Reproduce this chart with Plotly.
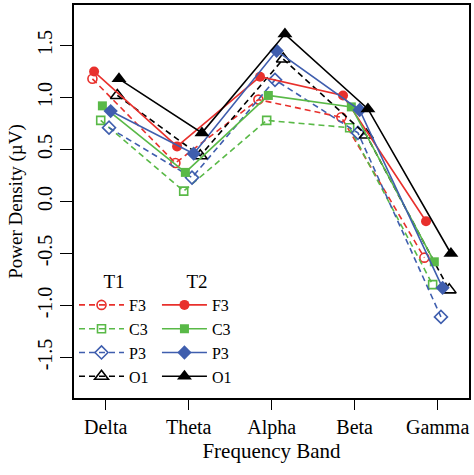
import plotly.graph_objects as go

# Frequency bands on the x axis
bands = ["Delta", "Theta", "Alpha", "Beta", "Gamma"]
band_pos = [1, 2, 3, 4, 5]
electrodes = ["F3", "C3", "P3", "O1"]

# Power density (uV)
t1_f3 = [1.18, 0.37, 0.98, 0.81, -0.54]
t1_c3 = [0.78, 0.10, 0.78, 0.71, -0.80]
t1_p3 = [0.71, 0.23, 1.17, 0.66, -1.11]
t1_o1 = [1.02, 0.44, 1.37, 0.64, -0.85]

t2_f3 = [1.25, 0.53, 1.20, 1.02, -0.19]
t2_c3 = [0.92, 0.28, 1.02, 0.91, -0.58]
t2_p3 = [0.87, 0.46, 1.45, 0.88, -0.83]
t2_o1 = [1.18, 0.66, 1.61, 0.89, -0.50]

# horizontal dodge per electrode / session
t1_offsets = [-0.16, -0.06, 0.04, 0.14]
t2_offsets = [-0.14, -0.04, 0.06, 0.16]

y_ticks = [-1.5, -1.0, -0.5, 0.0, 0.5, 1.0, 1.5]
y_ticktext = ["-1.5", "-1.0", "-0.5", "0.0", "0.5", "1.0", "1.5"]

colors = ["#E8302C", "#59B947", "#3F5EAE", "#000000"]
symbols = ["circle", "square", "diamond", "triangle-up"]
sizes = [10, 9, 11, 13]

FONT = "Liberation Serif"

fig = go.Figure()

t1 = [t1_f3, t1_c3, t1_p3, t1_o1]
t2 = [t2_f3, t2_c3, t2_p3, t2_o1]

for i, name in enumerate(electrodes):
    fig.add_trace(go.Scatter(
        x=[p + t1_offsets[i] for p in band_pos], y=t1[i], name=name,
        mode="lines+markers", legend="legend",
        line=dict(color=colors[i], width=1.6, dash="6px,4px"),
        marker=dict(symbol=symbols[i] + "-open", size=sizes[i] - 1,
                    color=colors[i], line=dict(width=1.6, color=colors[i])),
    ))

for i, name in enumerate(electrodes):
    fig.add_trace(go.Scatter(
        x=[p + t2_offsets[i] for p in band_pos], y=t2[i], name=name,
        mode="lines+markers", legend="legend2",
        line=dict(color=colors[i], width=1.6),
        marker=dict(symbol=symbols[i], size=sizes[i], color=colors[i]),
    ))

legend_common = dict(
    font=dict(family=FONT, size=16, color="black"),
    bgcolor="rgba(0,0,0,0)", yanchor="bottom", xanchor="left",
    traceorder="normal", itemwidth=45,
)

fig.update_layout(
    width=474, height=475,
    margin=dict(l=74, r=5, t=5, b=77),
    paper_bgcolor="white", plot_bgcolor="white",
    font=dict(family=FONT, size=20, color="black"),
    legend=dict(x=0.0, y=0.012, title=dict(text="T1", side="top center"),
                **legend_common),
    legend2=dict(x=0.21, y=0.012, title=dict(text="T2", side="top center"),
                 **legend_common),
    xaxis=dict(
        range=[0.618, 5.378], tickvals=band_pos, ticktext=bands,
        showgrid=False, zeroline=False, showline=True, mirror=True,
        linecolor="black", linewidth=1.5, ticks="outside", ticklen=10,
        tickcolor="black", tickwidth=1, automargin=False,
        title=dict(text="Frequency Band", standoff=4,
                   font=dict(family=FONT, size=21)),
    ),
    yaxis=dict(
        range=[-1.89, 1.89], tickvals=y_ticks, ticktext=y_ticktext,
        tickangle=-90, showgrid=False, zeroline=False, showline=True,
        mirror=True, linecolor="black", linewidth=1.5, ticks="outside",
        ticklen=12, tickcolor="black", tickwidth=1, automargin=False,
        title=dict(text="Power Density (µV)", standoff=7,
                   font=dict(family=FONT, size=19)),
    ),
)

# drop the default page margin so the figure sits at the window's corner
fig.write_html("out.html", config={"displayModeBar": False},
               post_script="document.body.style.margin='0';")
